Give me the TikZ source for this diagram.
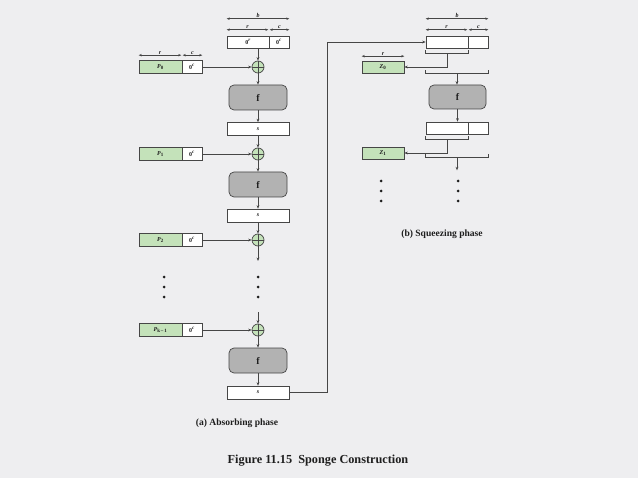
\documentclass[tikz,border=0pt]{standalone}
\usepackage{fontspec}
\setmainfont{Liberation Serif}
\usetikzlibrary{calc,arrows.meta}
\definecolor{paper}{RGB}{238,238,240}
\definecolor{linec}{RGB}{70,70,70}
\definecolor{grn}{RGB}{196,226,186}
\definecolor{fgray}{RGB}{178,178,178}
\definecolor{txt}{RGB}{30,30,30}
\newcommand{\zr}{\textbf{0}\textsuperscript{\bfseries\itshape r}}
\newcommand{\zc}{\textbf{0}\textsuperscript{\bfseries\itshape c}}
\newcommand{\lbl}[2]{{\bfseries\itshape #1}\textsubscript{\bfseries #2}}
\begin{document}
\begin{tikzpicture}[x=1bp,y=-1bp,
  every node/.style={text=txt},
  boxn/.style={draw=linec, line width=0.6bp, fill=white, minimum height=12bp, inner sep=0pt, font=\fontsize{6}{7}\selectfont\bfseries},
  gbox/.style={boxn, fill=grn},
  fbox/.style={draw=linec, line width=0.7bp, fill=fgray, rounded corners=5bp, minimum width=58bp, minimum height=25bp, inner sep=0pt, font=\fontsize{10}{11}\selectfont\bfseries},
  xorn/.style={circle, draw=linec, line width=0.7bp, fill=grn, minimum size=12bp, inner sep=0pt, path picture={\draw[linec, line width=0.7bp] (path picture bounding box.north) -- (path picture bounding box.south) (path picture bounding box.west) -- (path picture bounding box.east);}},
  arr/.style={draw=linec, line width=0.6bp, -{Stealth[length=3.5bp,width=2.8bp]}},
  ln/.style={draw=linec, line width=0.6bp},
  dim/.style={draw=linec, line width=0.5bp, {Stealth[length=3bp,width=2.4bp]}-{Stealth[length=3bp,width=2.4bp]}},
  diml/.style={font=\fontsize{6}{7}\selectfont\itshape\bfseries, inner sep=0.8bp, above},
  dotn/.style={circle, fill=txt, minimum size=3bp, inner sep=0pt},
  capn/.style={font=\fontsize{9.6}{11}\selectfont\bfseries},
]
\useasboundingbox[fill=paper] (0,0) rectangle (638,478);

% ---------- absorbing phase ----------
\node[boxn, minimum width=42bp] (t0r) at (248,42) {\zr};
\node[boxn, minimum width=20bp] (t0c) at (279,42) {\zc};
\draw[dim] ([yshift=6bp]t0r.north west) -- ([yshift=6bp,xshift=-1bp]t0r.north east) node[diml, midway] {r};
\draw[dim] ([yshift=6bp,xshift=1bp]t0c.north west) -- ([yshift=6bp]t0c.north east) node[diml, midway] {c};
\draw[dim] ([yshift=17bp]t0r.north west) -- ([yshift=17bp]t0c.north east) node[diml, midway] {b};

\node[xorn] (x0) at (258,67) {};
\node[xorn] (x1) at (258,154) {};
\node[xorn] (x2) at (258,240) {};
\node[xorn] (x3) at (258,330) {};

\node[fbox] (f0) at (258,97.5) {f};
\node[fbox] (f1) at (258,184.5) {f};
\node[fbox] (f3) at (258,360.5) {f};

\node[boxn, minimum width=62bp, minimum height=13bp] (s1) at (258,129) {\itshape s};
\node[boxn, minimum width=62bp, minimum height=13bp] (s2) at (258,215.5) {\itshape s};
\node[boxn, minimum width=62bp, minimum height=13bp] (s3) at (258,392.5) {\itshape s};

\node[gbox, minimum width=43bp, minimum height=13bp] (p0g) at (160.5,67) {\lbl{P}{0}};
\node[boxn, minimum width=20bp, minimum height=13bp] (p0w) at (192,67) {\zc};
\node[gbox, minimum width=43bp, minimum height=13bp] (p1g) at (160.5,154) {\lbl{P}{1}};
\node[boxn, minimum width=20bp, minimum height=13bp] (p1w) at (192,154) {\zc};
\node[gbox, minimum width=43bp, minimum height=13bp] (p2g) at (160.5,240) {\lbl{P}{2}};
\node[boxn, minimum width=20bp, minimum height=13bp] (p2w) at (192,240) {\zc};
\node[gbox, minimum width=43bp, minimum height=13bp] (p3g) at (160.5,330) {\lbl{P}{k\,\textendash\,1}};
\node[boxn, minimum width=20bp, minimum height=13bp] (p3w) at (192,330) {\zc};

\draw[dim] ([yshift=5bp]p0g.north west) -- ([yshift=5bp,xshift=-1bp]p0g.north east) node[diml, midway] {r};
\draw[dim] ([yshift=5bp,xshift=1bp]p0w.north west) -- ([yshift=5bp]p0w.north east) node[diml, midway] {c};

\draw[arr] (x0 |- t0r.south) -- (x0.north);
\draw[arr] (p0w.east) -- (x0.west);
\draw[arr] (x0.south) -- (f0.north);
\draw[arr] (f0.south) -- (s1.north);
\draw[arr] (s1.south) -- (x1.north);
\draw[arr] (p1w.east) -- (x1.west);
\draw[arr] (x1.south) -- (f1.north);
\draw[arr] (f1.south) -- (s2.north);
\draw[arr] (s2.south) -- (x2.north);
\draw[arr] (p2w.east) -- (x2.west);
\coordinate (e2) at (258,261);
\draw[arr] (x2.south) -- (e2);
\coordinate (b3) at (258,312);
\draw[arr] (b3) -- (x3.north);
\draw[arr] (p3w.east) -- (x3.west);
\draw[arr] (x3.south) -- (f3.north);
\draw[arr] (f3.south) -- (s3.north);

\foreach \yy [count=\i] in {277,287,297} {
  \node[dotn] (dl\i) at (164,\yy) {};
  \node[dotn] (dm\i) at (258,\yy) {};
}

\node[capn] (capa) at (237,423) {(a) Absorbing phase};

% ---------- squeezing phase ----------
\node[boxn, minimum width=42bp] (u0r) at (447,42) {};
\node[boxn, minimum width=20bp] (u0c) at (478,42) {};
\draw[dim] ([yshift=6bp]u0r.north west) -- ([yshift=6bp,xshift=-1bp]u0r.north east) node[diml, midway] {r};
\draw[dim] ([yshift=6bp,xshift=1bp]u0c.north west) -- ([yshift=6bp]u0c.north east) node[diml, midway] {c};
\draw[dim] ([yshift=17bp]u0r.north west) -- ([yshift=17bp]u0c.north east) node[diml, midway] {b};

\draw[arr] (s3.east) -- ++(38,0) |- (u0r.west);

\node[gbox, minimum width=42bp] (z0) at (383,67) {\lbl{Z}{0}};
\draw[dim] ([yshift=4.5bp]z0.north west) -- ([yshift=4.5bp]z0.north east) node[diml, midway] {r};
\node[gbox, minimum width=42bp] (z1) at (383,153) {\lbl{Z}{1}};

\draw[ln] ($(u0r.south west)+(0,2)$) -- ($(u0r.south west)+(0,5)$) -- coordinate (m01) ($(u0r.south east)+(0,5)$) -- ($(u0r.south east)+(0,2)$);
\draw[arr] (m01) |- (z0.east);
\draw[ln] ($(u0r.south west)+(0,22)$) -- ($(u0r.south west)+(0,25)$) -- coordinate (m02) ($(u0c.south east)+(0,25)$) -- ($(u0c.south east)+(0,22)$);

\node[fbox, minimum width=57bp, minimum height=24bp] (fr0) at (457.5,97) {f};
\draw[arr] (m02) -- (m02 |- fr0.north);

\node[boxn, minimum width=42bp] (u1r) at (447,128) {};
\node[boxn, minimum width=20bp] (u1c) at (478,128) {};
\draw[arr] (fr0.south) -- (fr0.south |- u1r.north);

\draw[ln] ($(u1r.south west)+(0,2)$) -- ($(u1r.south west)+(0,5)$) -- coordinate (m11) ($(u1r.south east)+(0,5)$) -- ($(u1r.south east)+(0,2)$);
\draw[arr] (m11) |- (z1.east);
\draw[ln] ($(u1r.south west)+(0,20)$) -- ($(u1r.south west)+(0,23)$) -- coordinate (m12) ($(u1c.south east)+(0,23)$) -- ($(u1c.south east)+(0,20)$);
\coordinate (e12) at ($(m12)+(0,13)$);
\draw[arr] (m12) -- (e12);

\foreach \yy [count=\i] in {181,191,201} {
  \node[dotn] (dz\i) at (381,\yy) {};
  \node[dotn] (dr\i) at (458,\yy) {};
}

\node[capn] (capb) at (442,234) {(b) Squeezing phase};

\node[font=\fontsize{12.3}{14}\selectfont\bfseries] (title) at (318,461) {Figure 11.15\ \ Sponge Construction};
\end{tikzpicture}
\end{document}
